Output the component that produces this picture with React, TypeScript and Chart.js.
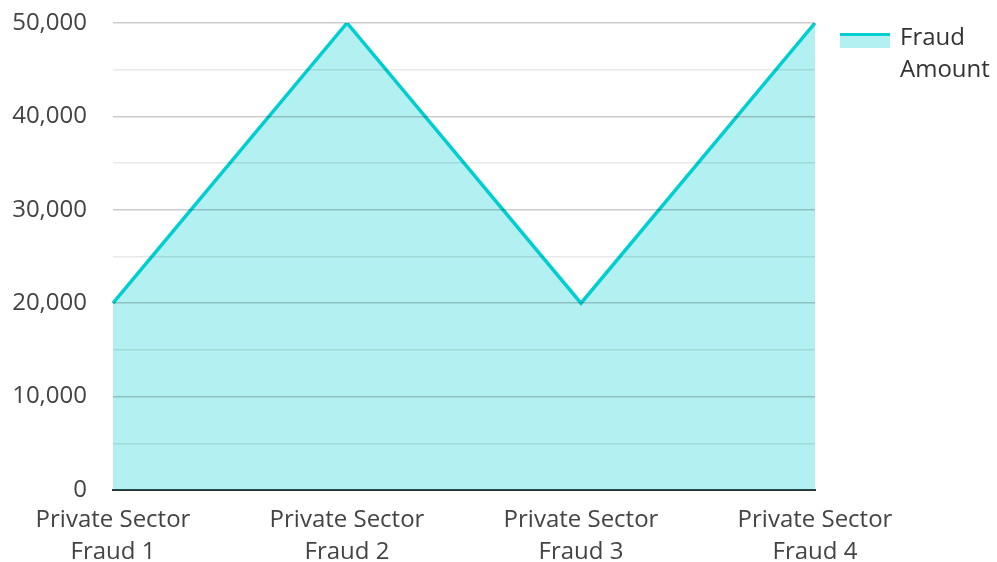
import React, { useEffect, useRef } from "react";
import { Chart, registerables } from "chart.js";

Chart.register(...registerables);

const categories: string[][] = [
  ["Private Sector", "Fraud 1"],
  ["Private Sector", "Fraud 2"],
  ["Private Sector", "Fraud 3"],
  ["Private Sector", "Fraud 4"],
];
const fraudAmount: number[] = [20000, 50000, 20000, 50000];
const seriesLabel = "Fraud Amount";
const legendLines = ["Fraud", "Amount"];

const LINE = "#00CED1";
const FILL = "rgba(0, 206, 209, 0.3)";
const FONT = "'Open Sans', 'Noto Sans', sans-serif";
const TEXT = "#444";

export default function App() {
  const ref = useRef<HTMLCanvasElement | null>(null);

  useEffect(() => {
    let chart: Chart | null = null;
    let cancelled = false;
    const build = () => {
      if (cancelled || !ref.current) return;
      chart = new Chart(ref.current, {
        type: "line",
        data: {
          labels: categories,
          datasets: [
            {
              label: seriesLabel,
              data: fraudAmount,
              borderColor: LINE,
              backgroundColor: FILL,
              borderWidth: 3.5,
              fill: "origin",
              tension: 0,
              pointRadius: 0,
              pointHoverRadius: 0,
            },
          ],
        },
        options: {
          animation: false,
          responsive: false,
          maintainAspectRatio: false,
          layout: { padding: { top: 23, right: 182, bottom: 0, left: 0 } },
          plugins: { legend: { display: false }, tooltip: { enabled: false } },
          scales: {
            x: {
              offset: false,
              grid: { display: false, drawTicks: false },
              border: { display: true, color: "#333", width: 2 },
              ticks: {
                color: TEXT,
                padding: 14,
                maxRotation: 0,
                autoSkip: false,
                font: { family: FONT, size: 24, lineHeight: "32px" } as any,
              },
            },
            y: {
              min: 0,
              max: 50000,
              afterFit: (scale: any) => {
                scale.width = 113;
                scale.paddingTop = 0;
                scale.paddingBottom = 0;
              },
              grid: {
                z: 1,
                drawTicks: false,
                color: (ctx: any) =>
                  ctx.tick && ctx.tick.value % 10000 === 0
                    ? "rgba(0,0,0,0.2)"
                    : "rgba(0,0,0,0.09)",
                lineWidth: 1.5,
              },
              border: { display: false },
              ticks: {
                stepSize: 5000,
                color: TEXT,
                padding: 26,
                font: { family: FONT, size: 24 },
                callback: (v: any) =>
                  Number(v) % 10000 === 0 ? Number(v).toLocaleString("en-US") : "",
              },
            },
          },
        },
      });
    };
    const fonts: any = (document as any).fonts;
    if (fonts && fonts.load) {
      fonts.load("24px 'Open Sans'").then(build, build);
    } else {
      build();
    }
    return () => {
      cancelled = true;
      if (chart) chart.destroy();
    };
  }, []);

  return (
    <div
      style={{
        position: "fixed",
        left: 0,
        top: 0,
        width: 997,
        height: 582,
        background: "#fff",
        fontFamily: FONT,
      }}
    >
      <canvas ref={ref} width={997} height={582} style={{ display: "block" }} />
      <div
        style={{
          position: "absolute",
          left: 840,
          top: 33,
          width: 50,
          height: 12,
          background: FILL,
          borderTop: `3px solid ${LINE}`,
        }}
      />
      <div
        style={{
          position: "absolute",
          left: 900,
          top: 20,
          fontSize: 24,
          lineHeight: "32px",
          color: "#333",
        }}
      >
        {legendLines.map((l) => (
          <div key={l}>{l}</div>
        ))}
      </div>
    </div>
  );
}
